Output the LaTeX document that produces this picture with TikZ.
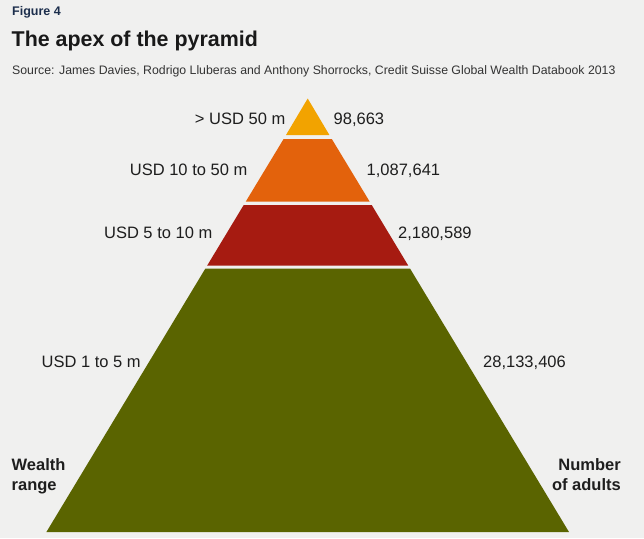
\documentclass[tikz,border=0pt]{standalone}
\usepackage{fontspec}
\setmainfont{Liberation Sans}
\definecolor{bg}{HTML}{F0F0EF}
\definecolor{tierA}{HTML}{F2A300}
\definecolor{tierB}{HTML}{E3620C}
\definecolor{tierC}{HTML}{A61B11}
\definecolor{tierD}{HTML}{5A6400}
\definecolor{navy}{HTML}{1C2E4C}
\definecolor{txt}{HTML}{1E1E1E}
\definecolor{srctxt}{HTML}{333333}
\tikzset{
  lbl/.style={inner sep=0pt, text=txt, font=\fontsize{16.5}{19}\selectfont},
  axislbl/.style={inner sep=0pt, text=txt, font=\bfseries\fontsize{16.5}{20.5}\selectfont, align=#1},
  tier/.style={fill=#1, draw=none}
}
\begin{document}
\begin{tikzpicture}[x=1pt,y=-1pt]
\fill[bg] (0,0) rectangle (644,538);
\useasboundingbox (0,0) rectangle (644,538);
% header
\node[inner sep=0pt, anchor=base west, text=navy, font=\bfseries\fontsize{12.5}{14}\selectfont] (fig) at (12,15.5) {Figure 4};
\node[inner sep=0pt, anchor=base west, text=black!90, font=\bfseries\fontsize{21.4}{24}\selectfont] (title) at (11.5,46.7) {The apex of the pyramid};
\node[inner sep=0pt, anchor=base west, text=srctxt, font=\fontsize{12.3}{14}\selectfont] (src) at (12,74.5) {Source: James Davies, Rodrigo Lluberas and Anthony Shorrocks, Credit Suisse Global Wealth Databook 2013};
% pyramid tiers
\fill[tier=tierA] (307.7,98.5) -- (329.4,135) -- (286.0,135) -- cycle;
\fill[tier=tierB] (283.6,139) -- (331.8,139) -- (369.6,201.5) -- (245.8,201.5) -- cycle;
\fill[tier=tierC] (243.7,205) -- (371.7,205) -- (408.2,265.5) -- (207.2,265.5) -- cycle;
\fill[tier=tierD] (205.4,268.5) -- (410.0,268.5) -- (569.0,532) -- (46.4,532) -- cycle;
% wealth range labels
\node[lbl, anchor=base east] (w1) at (285.5,124) {> USD 50 m};
\node[lbl, anchor=base east] (w2) at (247.5,175.5) {USD 10 to 50 m};
\node[lbl, anchor=base east] (w3) at (212.5,238) {USD 5 to 10 m};
\node[lbl, anchor=base west] (w4) at (41.5,367) {USD 1 to 5 m};
% number labels
\node[lbl, anchor=base west] (n1) at (333.5,124) {98,663};
\node[lbl, anchor=base west] (n2) at (366.5,175.5) {1,087,641};
\node[lbl, anchor=base west] (n3) at (398,238) {2,180,589};
\node[lbl, anchor=base west] (n4) at (483,367) {28,133,406};
% axis labels
\node[axislbl=left, anchor=base west] (wr) at (11.5,490.5) {Wealth\\range};
\node[axislbl=right, anchor=base east] (na) at (621,490.5) {Number\\of adults};
\end{tikzpicture}
\end{document}
